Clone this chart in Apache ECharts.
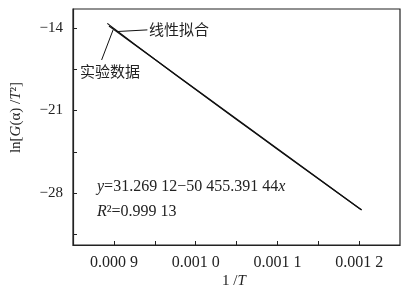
<!DOCTYPE html>
<html>
<head>
    <meta charset="utf-8" />
    <title>线性拟合</title>
    <style>
        html, body { margin: 0; padding: 0; background: #fff; }
        #chart { width: 410px; height: 298px; }
    </style>
</head>
<body>
    <div id="chart"></div>
    <script src="https://cdn.jsdelivr.net/npm/echarts@6/dist/echarts.min.js"></script>
    <script>
        // 实验数据 (1/T, ln[G(α)/T²])
        const expX = [0.000892, 0.0009, 0.00095, 0.001, 0.00105, 0.0011, 0.00115, 0.0012, 0.001203];
        const expY = [-13.62, -14.05, -16.66, -19.22, -21.76, -24.28, -26.79, -29.28, -29.42];
        // 线性拟合端点
        const fitX = [0.000894, 0.001203];
        const fitY = [-13.84, -29.43];
        // 刻度
        const xLabels = [0.0009, 0.001, 0.0011, 0.0012];
        const xTicks = [0.0009, 0.00095, 0.001, 0.00105, 0.0011, 0.00115, 0.0012];
        const yLabels = [-14, -21, -28];
        const yTicks = [-14, -17.5, -21, -24.5, -28, -31.5];
        // 引线 (数据坐标)
        const fitPointer = [[0.000904, -14.31], [0.000941, -14.17]];
        const expPointer = [[0.000899, -14.18], [0.000885, -16.72]];

        const font = '"Liberation Serif", "DejaVu Serif", serif';
        const cjk = '"Noto Sans CJK SC", sans-serif';
        const ink = '#222';

        const chart = echarts.init(document.getElementById('chart'));
        chart.setOption({
            backgroundColor: '#fff',
            animation: false,
            grid: { left: 73, top: 9, right: 10, bottom: 53, show: true, borderColor: ink, borderWidth: 1.2 },
            xAxis: {
                type: 'value',
                min: 0.00085,
                max: 0.00125,
                axisLine: { lineStyle: { color: ink, width: 1.2 } },
                axisTick: { inside: true, length: 4, customValues: xTicks, lineStyle: { color: ink } },
                axisLabel: {
                    customValues: xLabels,
                    margin: 10,
                    fontFamily: font, fontSize: 16, color: ink,
                    formatter: function (v) {
                        const s = v.toFixed(4);
                        return s.slice(0, 5) + ' ' + s.slice(5);
                    }
                },
                splitLine: { show: false }
            },
            yAxis: {
                type: 'value',
                min: -32.4,
                max: -12.4,
                axisLine: { lineStyle: { color: ink, width: 1.2 } },
                axisTick: { inside: true, length: 4, customValues: yTicks, lineStyle: { color: ink } },
                axisLabel: {
                    customValues: yLabels,
                    margin: 10,
                    fontFamily: font, fontSize: 15, color: ink,
                    formatter: function (v) { return String(v).replace('-', '\u2212'); }
                },
                splitLine: { show: false }
            },
            series: [
                {
                    name: '实验数据',
                    type: 'line',
                    data: expX.map((x, i) => [x, expY[i]]),
                    showSymbol: false,
                    smooth: true,
                    lineStyle: { color: '#111', width: 1.2 }
                },
                {
                    name: '线性拟合',
                    type: 'line',
                    data: fitX.map((x, i) => [x, fitY[i]]),
                    showSymbol: false,
                    lineStyle: { color: '#111', width: 1.2 },
                    markLine: {
                        silent: true,
                        symbol: 'none',
                        label: { show: false },
                        lineStyle: { color: '#111', width: 1, type: 'solid' },
                        data: [
                            [{ coord: fitPointer[0] }, { coord: fitPointer[1] }],
                            [{ coord: expPointer[0] }, { coord: expPointer[1] }]
                        ]
                    }
                }
            ],
            graphic: [
                {
                    type: 'text', left: 149, top: 22,
                    style: { text: '线性拟合', font: '15px ' + cjk, fill: ink }
                },
                {
                    type: 'text', left: 80, top: 64,
                    style: { text: '实验数据', font: '15px ' + cjk, fill: ink }
                },
                {
                    type: 'text', left: 97, top: 179,
                    style: {
                        rich: {
                            i: { fontFamily: font, fontSize: 16, fontStyle: 'italic', fill: ink },
                            n: { fontFamily: font, fontSize: 16, fill: ink }
                        },
                        text: '{i|y}{n|=31.269 12\u221250 455.391 44}{i|x}'
                    }
                },
                {
                    type: 'text', left: 97, top: 204,
                    style: {
                        rich: {
                            i: { fontFamily: font, fontSize: 16, fontStyle: 'italic', fill: ink },
                            n: { fontFamily: font, fontSize: 16, fill: ink }
                        },
                        text: '{i|R}{n|\u00b2=0.999 13}'
                    }
                },
                {
                    type: 'text', left: 222, top: 274,
                    style: {
                        rich: {
                            i: { fontFamily: font, fontSize: 15, fontStyle: 'italic', fill: ink },
                            n: { fontFamily: font, fontSize: 15, fill: ink }
                        },
                        text: '{n|1 /}{i|T}'
                    }
                },
                {
                    type: 'text', left: 9, top: 82, rotation: Math.PI / 2,
                    style: {
                        rich: {
                            i: { fontFamily: font, fontSize: 15, fontStyle: 'italic', fill: ink },
                            n: { fontFamily: font, fontSize: 15, fill: ink }
                        },
                        text: '{n|ln[}{i|G}{n|(α) /}{i|T}{n|\u00b2]}'
                    }
                }
            ]
        });
    </script>
</body>
</html>
